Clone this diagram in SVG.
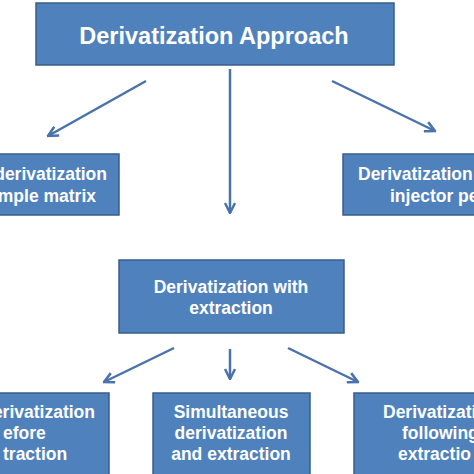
<svg xmlns="http://www.w3.org/2000/svg" width="474" height="474" viewBox="0 0 474 474">
<style>
.box{fill:#4f81bd;stroke:#385d8a;stroke-width:1.5}
.t{font-family:"Liberation Sans",Arial,sans-serif;font-weight:bold;fill:#ffffff;font-size:17.5px}
.c{text-anchor:middle}
.conn line{stroke:#4a72ab;stroke-width:2.5;fill:none;marker-end:url(#ah)}
</style>
<defs>
<marker id="ah" viewBox="0 0 10 10" refX="9" refY="5" markerWidth="5" markerHeight="5" orient="auto" markerUnits="strokeWidth">
<path d="M1,1 L9,5 L1,9" fill="none" stroke="#4a72ab" stroke-width="2"/>
</marker>
</defs>
<rect width="474" height="474" fill="#ffffff"/>
<g id="n-approach">
<rect class="box" x="36" y="3" width="358" height="62"/>
<text class="t c" x="214" y="44" style="font-size:23.5px">Derivatization Approach</text>
</g>
<g id="n-matrix">
<rect class="box" x="-5" y="154" width="124" height="61"/>
<text class="t" x="107" y="180" text-anchor="end">derivatization</text>
<text class="t" x="96" y="202" text-anchor="end">mple matrix</text>
</g>
<g id="n-injector">
<rect class="box" x="343" y="154" width="140" height="61"/>
<text class="t" x="358" y="180">Derivatization</text>
<text class="t" x="390" y="202">injector pe</text>
</g>
<g id="n-extraction">
<rect class="box" x="119" y="260" width="225" height="73"/>
<text class="t c" x="231" y="293">Derivatization with</text>
<text class="t c" x="231" y="314">extraction</text>
</g>
<g id="n-before">
<rect class="box" x="-5" y="393" width="114" height="90"/>
<text class="t" x="95" y="418" text-anchor="end">erivatization</text>
<text class="t" x="3" y="439">efore</text>
<text class="t" x="3" y="460">traction</text>
</g>
<g id="n-simultaneous">
<rect class="box" x="153" y="393" width="157" height="90"/>
<text class="t c" x="231" y="418">Simultaneous</text>
<text class="t c" x="231" y="439">derivatization</text>
<text class="t c" x="231" y="460">and extraction</text>
</g>
<g id="n-following">
<rect class="box" x="354" y="393" width="130" height="90"/>
<text class="t" x="383" y="418">Derivatizati</text>
<text class="t" x="402" y="439">following</text>
<text class="t" x="398" y="460">extractio</text>
</g>
<g id="connectors" class="conn">
<line x1="146" y1="81" x2="48" y2="136"/>
<line x1="230" y1="69" x2="230" y2="213"/>
<line x1="332" y1="81" x2="435" y2="131"/>
<line x1="174" y1="348" x2="104" y2="382"/>
<line x1="230" y1="349" x2="230" y2="379"/>
<line x1="288" y1="348" x2="358" y2="382"/>
</g>
</svg>
